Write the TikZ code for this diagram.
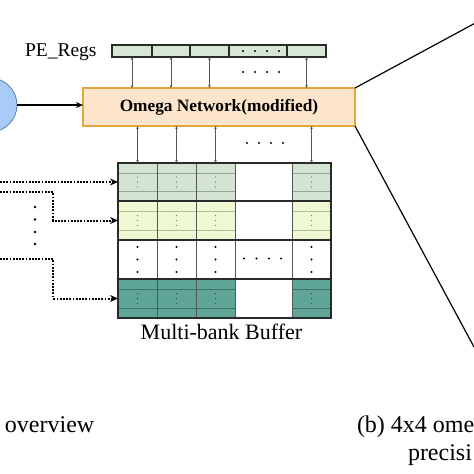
\documentclass[tikz,border=0pt]{standalone}
\usepackage{fontspec}
\setmainfont{Liberation Serif}
\usetikzlibrary{arrows.meta}
\definecolor{peFill}{HTML}{D6E8D5}
\definecolor{omFill}{HTML}{FDE5CC}
\definecolor{omDraw}{HTML}{E2A540}
\definecolor{ciFill}{HTML}{A8CCF7}
\definecolor{ciDraw}{HTML}{5A7DA6}
\definecolor{rowA}{HTML}{D4E4D4}
\definecolor{rowAl}{HTML}{8FA88F}
\definecolor{rowB}{HTML}{EEF8D3}
\definecolor{rowBl}{HTML}{AFC08A}
\definecolor{rowC}{HTML}{FFFFFF}
\definecolor{rowCl}{HTML}{FFFFFF}
\definecolor{rowD}{HTML}{60A696}
\definecolor{rowDl}{HTML}{3A7668}
\definecolor{gridc}{HTML}{555555}
\definecolor{darkc}{HTML}{2A2A2A}
\tikzset{
  pecell/.style={draw=darkc, line width=1.2pt, fill=peFill, inner sep=0pt, outer sep=0pt, minimum height=12pt},
  bcell/.style={inner sep=0pt, outer sep=0pt},
  omegabox/.style={draw=omDraw, line width=1.3pt, fill=omFill, inner sep=0pt, outer sep=0pt,
     minimum width=272pt, minimum height=38pt, font=\fontsize{17.3}{20}\selectfont\bfseries},
  srccirc/.style={circle, draw=ciDraw, line width=0.8pt, fill=ciFill, minimum size=54pt, inner sep=0pt},
  thinarrow/.style={draw=gridc, line width=0.6pt, {Stealth[length=3pt,width=2.6pt]}-{Stealth[length=3pt,width=2.6pt]}},
  mainarrow/.style={draw=black, line width=1.1pt, -{Stealth[length=7pt,width=6pt]}},
  dotarrow/.style={draw=black, line width=2pt, dash pattern=on 1.8pt off 1.4pt, -{Stealth[length=8pt,width=7pt]}},
  bigline/.style={draw=black, line width=1.2pt},
  lbl/.style={inner sep=0pt, outer sep=0pt}
}
\begin{document}
\begin{tikzpicture}[x=1pt,y=-1pt]
\useasboundingbox (0,0) rectangle (474,474);
\clip (0,0) rectangle (474,474);
\fill[white] (0,0) rectangle (474,474);

% source circle
\node[srccirc] (src) at (-10,105) {};

% PE registers
\node[lbl, anchor=west, font=\fontsize{19.5}{22}\selectfont] (pelabel) at (25,52) {PE\_Regs};
\foreach \i/\a/\b in {1/112/152, 2/152/190, 3/190/229, 4/229/287, 5/287/326}
  \node[pecell, minimum width={(\b-\a)*1pt}] (pe\i) at ({(\a+\b)/2},51) {};
\draw[draw=darkc, line width=2.2pt] (pe1.north west) rectangle (pe5.south east);
\foreach \x in {243,255,267,279} \fill[black] (\x,51) circle (1.1pt);

% Omega network
\node[omegabox, anchor=north west] (omega) at (83,88) {Omega Network(modified)};

% PE <-> omega
\foreach \i in {1,2,3,5}
  \draw[thinarrow] (pe\i.south) -- (pe\i.south |- omega.north);
\foreach \x in {243,255,267,279} \fill[black] (\x,72) circle (1.1pt);

% source -> omega
\draw[mainarrow] (src.east) -- (src.east -| omega.west);

% buffer cells
\foreach \r/\ya/\yb/\fc in {1/163/201/rowA, 2/201/240/rowB, 3/240/279/rowC, 4/279/318/rowD}{
  \foreach \c/\xa/\xb in {1/118/157, 2/157/196, 3/196/235, 4/235/292, 5/292/331}{
    \ifnum\c=4 \def\cf{white}\else\edef\cf{\fc}\fi
    \node[bcell, fill=\cf, minimum width={(\xb-\xa)*1pt}, minimum height={(\yb-\ya)*1pt}] (b\r\c) at ({(\xa+\xb)/2},{(\ya+\yb)/2}) {};
  }
}
% inner lines of coloured rows
\foreach \r/\lc in {1/rowAl, 2/rowBl, 4/rowDl}{
  \foreach \c in {1,2,3,5}{
    \draw[\lc, line width=0.8pt] ([yshift=-10pt]b\r\c.north west) -- ([yshift=-10pt]b\r\c.north east);
    \draw[\lc, line width=0.8pt] ([yshift=9.5pt]b\r\c.south west) -- ([yshift=9.5pt]b\r\c.south east);
    \foreach \dy in {-5,0,5} \fill[\lc!70!black] ([yshift=\dy pt]b\r\c.center) circle (0.55pt);
  }
}
% dots in white row
\foreach \c in {1,2,3,5}
  \foreach \dy in {-12.5,0,12.5} \fill[black] ([yshift=\dy pt]b3\c.center) circle (1.2pt);
\foreach \x in {244,256.5,269,281} \fill[black] (\x,258.5) circle (1.2pt);

% grid lines
\foreach \c in {1,2,3,4}
  \draw[gridc, line width=1pt] (b1\c.north east) -- (b4\c.south east);
\foreach \r in {1,2,3}
  \draw[darkc, line width=1.4pt] (b\r1.south west) -- (b\r5.south east);
\draw[darkc, line width=1.8pt] (b11.north west) rectangle (b45.south east);

% omega <-> buffer
\foreach \c in {1,2,3,5}
  \draw[thinarrow] (b1\c.north |- omega.south) -- (b1\c.north);
\foreach \x in {247,259,271,283} \fill[black] (\x,143) circle (1.1pt);

\node[lbl, anchor=base, font=\fontsize{22}{26}\selectfont] (buflabel) at (221.5,339) {Multi-bank Buffer};

% inputs from the left
\coordinate (l1) at (0,182);
\coordinate (l2) at (0,192);
\coordinate (k2) at (53,192);
\coordinate (l4) at (0,259);
\coordinate (k4) at (53,259);
\draw[dotarrow] (l1) -- (b11.west);
\draw[dotarrow] (l2) -- (k2) |- (b21.west);
\draw[dotarrow] (l4) -- (k4) |- (b41.west);
\foreach \y in {207,219.5,232,244} \fill[black] (35,\y) circle (1.4pt);

% zoom lines
\coordinate (zt) at (480,20.5);
\coordinate (zb) at (474,347);
\draw[bigline] (omega.north east) -- (zt);
\draw[bigline] (omega.south east) -- (zb);

% captions
\node[lbl, anchor=base west, font=\fontsize{24}{28}\selectfont] (capa) at (5,432) {overview};
\node[lbl, anchor=base west, font=\fontsize{24}{28}\selectfont] (capb1) at (357,432) {(b) 4x4 ome};
\node[lbl, anchor=base west, font=\fontsize{24}{28}\selectfont] (capb2) at (408,460) {precisi};
\end{tikzpicture}
\end{document}
